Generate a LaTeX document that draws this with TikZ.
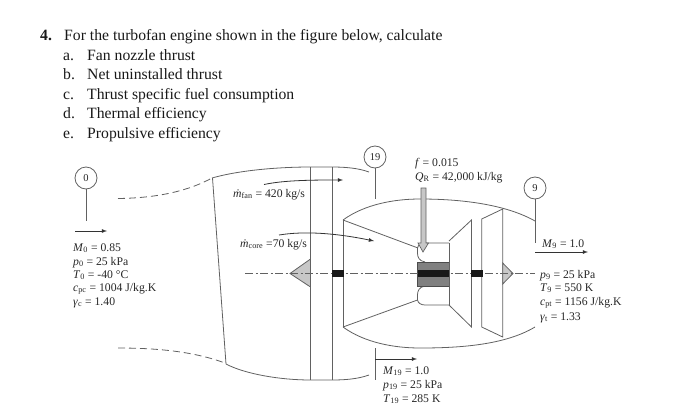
\documentclass[tikz,border=0pt]{standalone}
\usepackage{fontspec}
\setmainfont{Liberation Serif}
\usepackage{tikz}
\definecolor{engline}{gray}{0.38}
\definecolor{inktext}{gray}{0.15}
\newcommand{\sbs}[1]{\textsubscript{#1}}
\tikzset{
  question/.style={anchor=base west,inner sep=0pt,font=\fontsize{15.7}{17}\selectfont,text=black!90},
  datum/.style={anchor=base west,inner sep=0pt,font=\fontsize{11.7}{13}\selectfont,text=inktext},
  station/.style={draw=engline,circle,minimum size=22pt,inner sep=0pt,line width=0.8pt,font=\fontsize{10.5}{11}\selectfont,text=inktext},
  wall/.style={draw=engline,line width=0.8pt},
  flow/.style={draw=black!80,line width=0.8pt,-latex},
}
\begin{document}
\begin{tikzpicture}[x=1pt,y=-1pt]
\useasboundingbox (0,0) rectangle (700,415);
% question
\node[question,font=\fontsize{15.7}{17}\selectfont\bfseries] (qnum) at (40,40) {4.};
\node[question] (qtext) at (64,40) {For the turbofan engine shown in the figure below, calculate};
\node[question] (qa) at (63,60) {a.};
\node[question] (qb) at (63,79) {b.};
\node[question] (qc) at (63,99) {c.};
\node[question] (qd) at (63,118) {d.};
\node[question] (qe) at (63,138) {e.};
\node[question] (qatext) at (87,60) {Fan nozzle thrust};
\node[question] (qbtext) at (87,79) {Net uninstalled thrust};
\node[question] (qctext) at (87,99) {Thrust specific fuel consumption};
\node[question] (qdtext) at (87,118) {Thermal efficiency};
\node[question] (qetext) at (87,138) {Propulsive efficiency};
% inlet and fan casing
\draw[wall,dashed,dash pattern=on 7pt off 4pt] (118,198.5) .. controls (160,198) and (190,190) .. (212,178);
\draw[wall,dashed,dash pattern=on 7pt off 4pt] (118,348) .. controls (160,348) and (195,352) .. (225,363);
\draw[wall] (212,178) .. controls (240,170) and (280,167) .. (310.5,167)--(332,167) .. controls (345,167) and (358,168) .. (369,172);
\draw[wall] (226,364) .. controls (245,374) and (280,380) .. (310.5,380)--(332,380) .. controls (345,380) and (358,379) .. (369,375);
\draw[wall] (212.5,178)--(226,364);
\draw[wall] (310.5,167)--(310.5,380);
\draw[wall] (332,167)--(332,380);
\draw[wall,fill=black!22] (290,273.5)--(310.5,259)--(310.5,287)--cycle;
% core cowl
\draw[wall] (343,220) .. controls (365,204) and (395,199) .. (420,199) .. controls (460,199) and (505,204) .. (535,221);
\draw[wall] (343,327) .. controls (365,343) and (395,348) .. (420,348) .. controls (460,348) and (505,345) .. (535,327);
\draw[wall] (343,220)--(343,327);
\draw[wall] (343,220)--(418,248);
\draw[wall] (343,327)--(417.5,300);
% combustor
\draw[wall] (425,262) .. controls (419,261) and (417.5,257) .. (417.5,253)--(417.5,248) .. controls (418,245) and (421,243) .. (425,243)--(449,243);
\draw[wall] (425,286) .. controls (419,287) and (417.5,291) .. (417.5,295)--(417.5,300) .. controls (418,303) and (421,305) .. (425,305)--(449,305);
\draw[draw=black!70,fill=black!50,line width=0.5pt] (417.5,262) rectangle (449,286);
% turbines
\draw[wall] (449,243)--(449,305);
\draw[wall] (449,241)--(471.5,220)--(471.5,327)--(449,305);
\draw[wall] (502.7,209)--(481.7,219)--(481.7,327)--(502.7,337)--cycle;
\draw[wall,fill=black!22] (502.7,263)--(513,273.5)--(502.7,284)--cycle;
% centre line and shaft
\draw[engline,dash pattern=on 8pt off 2.5pt on 2pt off 2.5pt,line width=0.7pt] (245,273.5)--(535,273.5);
\draw[fill=black!90,draw=none] (332,270) rectangle (344,277);
\draw[fill=black!90,draw=none] (417.5,270) rectangle (449,277);
\draw[fill=black!90,draw=none] (471,270) rectangle (483,277);
% fuel
\draw[draw=engline,fill=black!22,line width=0.7pt] (421,188)--(426,188)--(426,243)--(428.5,243)--(423,252)--(418,243)--(421,243)--cycle;
% stations
\node[station] (st0) at (86,178) {0};
\node[station] (st19) at (375,157) {19};
\node[station] (st9) at (535,188) {9};
\coordinate (st0end) at (86,221);
\coordinate (st19end) at (375,199);
\coordinate (st9end) at (535,243);
\draw[wall] (st0)--(st0end);
\draw[wall] (st19)--(st19end);
\draw[wall] (st9)--(st9end);
\draw[wall] (375,348)--(375,380);
% flow arrows
\draw[flow] (75,231)--(107,231);
\draw[flow] (375,359)--(417,359);
\draw[flow] (535,252)--(588,252);
\draw[flow] (264,184.5) .. controls (285,180) and (315,180) .. (343,180);
\draw[flow] (279,235) .. controls (310,230) and (345,235) .. (374,241);
% data
\node[datum] (m0) at (73,251) {\textit{M}\sbs{0} = 0.85};
\node[datum] (p0) at (73,265) {\textit{p}\sbs{0} = 25 kPa};
\node[datum] (t0) at (73,278) {\textit{T}\sbs{0} = -40 °C};
\node[datum] (cpc) at (73,291) {\textit{c}\sbs{pc} = 1004 J/kg.K};
\node[datum] (gc) at (73,305) {\textit{γ}\sbs{c} = 1.40};
\node[datum] (mfan) at (233,197) {\textit{\.m}\sbs{fan} = 420 kg/s};
\node[datum] (mcore) at (240,247) {\textit{\.m}\sbs{core} =70 kg/s};
\node[datum] (fuel) at (415,166) {\textit{f} = 0.015};
\node[datum] (qr) at (415,180) {\textit{Q}\sbs{R} = 42,000 kJ/kg};
\node[datum] (m9) at (542,247) {\textit{M}\sbs{9} = 1.0};
\node[datum] (p9) at (540,278) {\textit{p}\sbs{9} = 25 kPa};
\node[datum] (t9) at (540,291) {\textit{T}\sbs{9} = 550 K};
\node[datum] (cpt) at (540,305) {\textit{c}\sbs{pt} = 1156 J/kg.K};
\node[datum] (gt) at (540,320) {\textit{γ}\sbs{t} = 1.33};
\node[datum] (m19) at (383,374) {\textit{M}\sbs{19} = 1.0};
\node[datum] (p19) at (383,388) {\textit{p}\sbs{19} = 25 kPa};
\node[datum] (t19) at (383,402) {\textit{T}\sbs{19} = 285 K};
\end{tikzpicture}
\end{document}
